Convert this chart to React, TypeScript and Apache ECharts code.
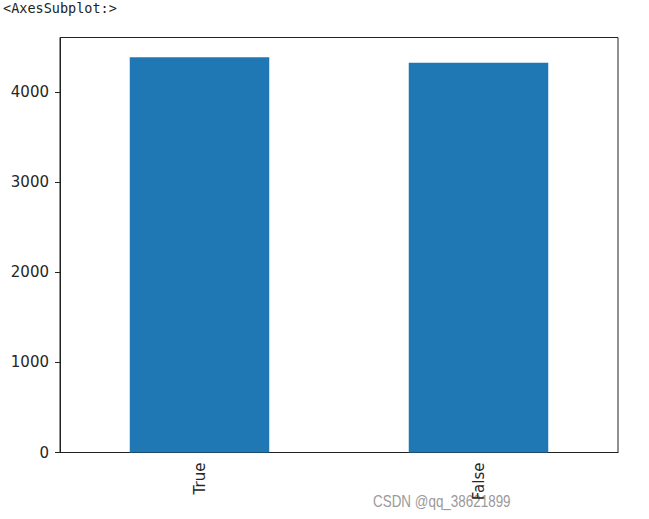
import { useEffect, useRef } from "react";
import * as echarts from "echarts";

const categories = ["True", "False"];
const counts = [4390, 4330];
const yTicks = [0, 1000, 2000, 3000, 4000];

export default function App() {
  const chartRef = useRef<HTMLDivElement>(null);

  useEffect(() => {
    if (!chartRef.current) return;
    const chart = echarts.init(chartRef.current, undefined, { renderer: "svg" });

    const option: echarts.EChartsOption = {
      animation: false,
      backgroundColor: "#fff",
      title: {
        text: "<AxesSubplot:>",
        left: 3,
        top: 1,
        padding: 0,
        textStyle: {
          fontFamily: "DejaVu Sans Mono",
          fontSize: 13.5,
          fontWeight: "normal",
          color: "#222",
        },
      },
      grid: {
        left: 60,
        right: 31,
        top: 37.5,
        bottom: 66.5,
        show: true,
        borderColor: "#222",
        borderWidth: 1,
        backgroundColor: "transparent",
      },
      xAxis: {
        type: "category",
        data: categories,
        axisLine: { show: true, lineStyle: { color: "#222", width: 1 } },
        axisTick: { alignWithLabel: true, length: 5, lineStyle: { color: "#222" } },
        axisLabel: {
          rotate: 90,
          margin: 10,
          fontFamily: "DejaVu Sans",
          fontSize: 15,
          color: "#262626",
        },
      },
      yAxis: {
        type: "value",
        min: 0,
        max: 4610,
        interval: 1000,
        axisLine: { show: true, lineStyle: { color: "#222", width: 1 } },
        axisTick: {
          show: true,
          length: 5,
          customValues: yTicks,
          lineStyle: { color: "#222" },
        },
        axisLabel: {
          customValues: yTicks,
          margin: 11,
          formatter: (v: number) => String(v),
          fontFamily: "DejaVu Sans",
          fontSize: 15,
          color: "#262626",
        },
        splitLine: { show: false },
      } as any,
      series: [
        {
          type: "bar",
          data: counts,
          barWidth: "50%",
          itemStyle: { color: "#1f77b4" },
        },
      ],
      graphic: [
        {
          type: "text",
          x: 373,
          y: 494,
          scaleX: 0.84,
          silent: true,
          style: {
            text: "CSDN @qq_38621899",
            fontFamily: "Liberation Sans",
            fontSize: 16,
            fill: "#9a9a9a",
          },
        },
      ],
    };

    chart.setOption(option);
    return () => chart.dispose();
  }, []);

  return (
    <div
      ref={chartRef}
      style={{ position: "absolute", left: 0, top: 0, width: 649, height: 519 }}
    />
  );
}
